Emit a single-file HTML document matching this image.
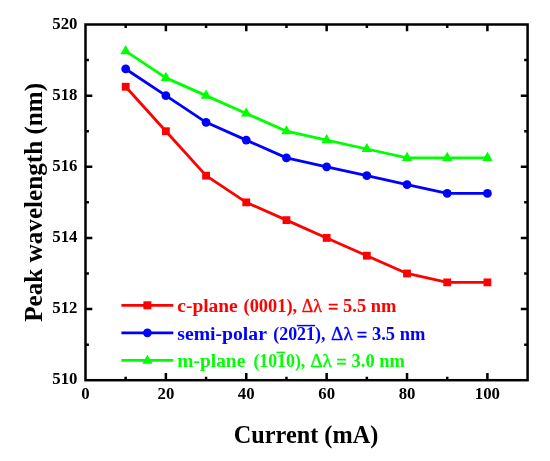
<!DOCTYPE html>
<html><head><meta charset="utf-8"><style>html,body{margin:0;padding:0;background:#fff;}svg{display:block;}</style></head>
<body><svg width="550" height="461" viewBox="0 0 550 461">
<rect width="550" height="461" fill="#fff"/>
<polyline points="125.69,86.75 165.88,131.21 206.07,175.67 246.26,202.35 286.45,220.13 326.65,237.92 366.84,255.70 407.03,273.49 447.22,282.38 487.41,282.38" fill="none" stroke="#ff0000" stroke-width="2.8" stroke-linejoin="round"/>
<polyline points="125.69,68.96 165.88,95.64 206.07,122.32 246.26,140.10 286.45,157.89 326.65,166.78 366.84,175.67 407.03,184.56 447.22,193.46 487.41,193.46" fill="none" stroke="#0000ff" stroke-width="2.8" stroke-linejoin="round"/>
<polyline points="125.69,51.18 165.88,77.86 206.07,95.64 246.26,113.43 286.45,131.21 326.65,140.10 366.84,149.00 407.03,157.89 447.22,157.89 487.41,157.89" fill="none" stroke="#00ff00" stroke-width="2.8" stroke-linejoin="round"/>
<rect x="121.79" y="82.85" width="7.8" height="7.8" fill="#ff0000"/>
<rect x="161.98" y="127.31" width="7.8" height="7.8" fill="#ff0000"/>
<rect x="202.17" y="171.77" width="7.8" height="7.8" fill="#ff0000"/>
<rect x="242.36" y="198.45" width="7.8" height="7.8" fill="#ff0000"/>
<rect x="282.55" y="216.23" width="7.8" height="7.8" fill="#ff0000"/>
<rect x="322.75" y="234.02" width="7.8" height="7.8" fill="#ff0000"/>
<rect x="362.94" y="251.80" width="7.8" height="7.8" fill="#ff0000"/>
<rect x="403.13" y="269.59" width="7.8" height="7.8" fill="#ff0000"/>
<rect x="443.32" y="278.48" width="7.8" height="7.8" fill="#ff0000"/>
<rect x="483.51" y="278.48" width="7.8" height="7.8" fill="#ff0000"/>
<circle cx="125.69" cy="68.96" r="4.4" fill="#0000ff"/>
<circle cx="165.88" cy="95.64" r="4.4" fill="#0000ff"/>
<circle cx="206.07" cy="122.32" r="4.4" fill="#0000ff"/>
<circle cx="246.26" cy="140.10" r="4.4" fill="#0000ff"/>
<circle cx="286.45" cy="157.89" r="4.4" fill="#0000ff"/>
<circle cx="326.65" cy="166.78" r="4.4" fill="#0000ff"/>
<circle cx="366.84" cy="175.67" r="4.4" fill="#0000ff"/>
<circle cx="407.03" cy="184.56" r="4.4" fill="#0000ff"/>
<circle cx="447.22" cy="193.46" r="4.4" fill="#0000ff"/>
<circle cx="487.41" cy="193.46" r="4.4" fill="#0000ff"/>
<polygon points="125.69,45.12 120.44,54.21 130.94,54.21" fill="#00ff00"/>
<polygon points="165.88,71.79 160.63,80.89 171.13,80.89" fill="#00ff00"/>
<polygon points="206.07,89.58 200.82,98.67 211.32,98.67" fill="#00ff00"/>
<polygon points="246.26,107.36 241.01,116.46 251.51,116.46" fill="#00ff00"/>
<polygon points="286.45,125.15 281.20,134.24 291.70,134.24" fill="#00ff00"/>
<polygon points="326.65,134.04 321.40,143.13 331.90,143.13" fill="#00ff00"/>
<polygon points="366.84,142.93 361.59,152.03 372.09,152.03" fill="#00ff00"/>
<polygon points="407.03,151.83 401.78,160.92 412.28,160.92" fill="#00ff00"/>
<polygon points="447.22,151.83 441.97,160.92 452.47,160.92" fill="#00ff00"/>
<polygon points="487.41,151.83 482.16,160.92 492.66,160.92" fill="#00ff00"/>
<rect x="85.5" y="24.5" width="442.10" height="355.70" fill="none" stroke="#000" stroke-width="2.5" stroke-linejoin="miter"/>
<path d="M125.69,380.2v-3.4 M125.69,24.5v3.4 M165.88,380.2v-7.1 M165.88,24.5v6.8 M206.07,380.2v-3.4 M206.07,24.5v3.4 M246.26,380.2v-7.1 M246.26,24.5v6.8 M286.45,380.2v-3.4 M286.45,24.5v3.4 M326.65,380.2v-7.1 M326.65,24.5v6.8 M366.84,380.2v-3.4 M366.84,24.5v3.4 M407.03,380.2v-7.1 M407.03,24.5v6.8 M447.22,380.2v-3.4 M447.22,24.5v3.4 M487.41,380.2v-7.1 M487.41,24.5v6.8 M85.5,344.63h3.4 M527.6,344.63h-3.4 M85.5,309.06h6.8 M527.6,309.06h-6.8 M85.5,273.49h3.4 M527.6,273.49h-3.4 M85.5,237.92h6.8 M527.6,237.92h-6.8 M85.5,202.35h3.4 M527.6,202.35h-3.4 M85.5,166.78h6.8 M527.6,166.78h-6.8 M85.5,131.21h3.4 M527.6,131.21h-3.4 M85.5,95.64h6.8 M527.6,95.64h-6.8 M85.5,60.07h3.4 M527.6,60.07h-3.4" stroke="#000" stroke-width="2.5" fill="none"/>
<text x="85.50" y="399.4" font-family='"Liberation Serif", serif' font-weight="bold" font-size="16.8" text-anchor="middle">0</text>
<text x="165.88" y="399.4" font-family='"Liberation Serif", serif' font-weight="bold" font-size="16.8" text-anchor="middle">20</text>
<text x="246.26" y="399.4" font-family='"Liberation Serif", serif' font-weight="bold" font-size="16.8" text-anchor="middle">40</text>
<text x="326.65" y="399.4" font-family='"Liberation Serif", serif' font-weight="bold" font-size="16.8" text-anchor="middle">60</text>
<text x="407.03" y="399.4" font-family='"Liberation Serif", serif' font-weight="bold" font-size="16.8" text-anchor="middle">80</text>
<text x="487.41" y="399.4" font-family='"Liberation Serif", serif' font-weight="bold" font-size="16.8" text-anchor="middle">100</text>
<text x="77.5" y="384.20" font-family='"Liberation Serif", serif' font-weight="bold" font-size="16.8" text-anchor="end">510</text>
<text x="77.5" y="313.06" font-family='"Liberation Serif", serif' font-weight="bold" font-size="16.8" text-anchor="end">512</text>
<text x="77.5" y="241.92" font-family='"Liberation Serif", serif' font-weight="bold" font-size="16.8" text-anchor="end">514</text>
<text x="77.5" y="170.78" font-family='"Liberation Serif", serif' font-weight="bold" font-size="16.8" text-anchor="end">516</text>
<text x="77.5" y="99.64" font-family='"Liberation Serif", serif' font-weight="bold" font-size="16.8" text-anchor="end">518</text>
<text x="77.5" y="28.50" font-family='"Liberation Serif", serif' font-weight="bold" font-size="16.8" text-anchor="end">520</text>
<text x="233.8" y="442.8" font-family='"Liberation Serif", serif' font-weight="bold" font-size="26" textLength="144.5" lengthAdjust="spacingAndGlyphs">Current (mA)</text>
<text transform="translate(42.2,321.8) rotate(-90)" font-family='"Liberation Serif", serif' font-weight="bold" font-size="26" textLength="239" lengthAdjust="spacingAndGlyphs">Peak wavelength (nm)</text>
<line x1="121.4" y1="305.3" x2="173.3" y2="305.3" stroke="#ff0000" stroke-width="2.8"/>
<rect x="143.40" y="301.30" width="8" height="8" fill="#ff0000"/>
<line x1="121.4" y1="332.8" x2="173.3" y2="332.8" stroke="#0000ff" stroke-width="2.8"/>
<circle cx="147.40" cy="332.80" r="4.4" fill="#0000ff"/>
<line x1="121.4" y1="360.4" x2="173.3" y2="360.4" stroke="#00ff00" stroke-width="2.8"/>
<polygon points="147.40,354.70 142.20,363.70 152.60,363.70" fill="#00ff00"/>
<text x="177.3" y="312.1" font-family='"Liberation Serif", serif' font-weight="bold" font-size="18.7" fill="#ff0000" textLength="60.4" lengthAdjust="spacingAndGlyphs">c-plane</text>
<text x="243.5" y="312.1" font-family='"Liberation Serif", serif' font-weight="bold" font-size="18.7" fill="#ff0000" textLength="53.7" lengthAdjust="spacingAndGlyphs">(0001),</text>
<text x="301.8" y="312.1" font-family='"Liberation Serif", serif' font-weight="normal" font-size="18.7" fill="#ff0000" stroke="#ff0000" stroke-width="0.35" textLength="20.2" lengthAdjust="spacingAndGlyphs">Δλ</text>
<text x="328" y="312.1" font-family='"Liberation Serif", serif' font-weight="bold" font-size="18.7" fill="#ff0000" textLength="68.3" lengthAdjust="spacingAndGlyphs"><tspan dy="1" stroke="#ff0000" stroke-width="0.3">=</tspan><tspan dy="-1"> 5.5 nm</tspan></text>
<text x="177.3" y="339.7" font-family='"Liberation Serif", serif' font-weight="bold" font-size="18.7" fill="#0000ff" textLength="89.6" lengthAdjust="spacingAndGlyphs">semi-polar</text>
<text x="273.2" y="339.7" font-family='"Liberation Serif", serif' font-weight="bold" font-size="18.7" fill="#0000ff" textLength="52.3" lengthAdjust="spacingAndGlyphs">(2021),</text>
<text x="331.1" y="339.7" font-family='"Liberation Serif", serif' font-weight="normal" font-size="18.7" fill="#0000ff" stroke="#0000ff" stroke-width="0.35" textLength="21.6" lengthAdjust="spacingAndGlyphs">Δλ</text>
<text x="356.8" y="339.7" font-family='"Liberation Serif", serif' font-weight="bold" font-size="18.7" fill="#0000ff" textLength="68.5" lengthAdjust="spacingAndGlyphs"><tspan dy="1" stroke="#0000ff" stroke-width="0.3">=</tspan><tspan dy="-1"> 3.5 nm</tspan></text>
<text x="177.3" y="366.5" font-family='"Liberation Serif", serif' font-weight="bold" font-size="18.7" fill="#00ff00" textLength="68.0" lengthAdjust="spacingAndGlyphs">m-plane</text>
<text x="253.4" y="366.5" font-family='"Liberation Serif", serif' font-weight="bold" font-size="18.7" fill="#00ff00" textLength="51.9" lengthAdjust="spacingAndGlyphs">(1010),</text>
<text x="310.2" y="366.5" font-family='"Liberation Serif", serif' font-weight="normal" font-size="18.7" fill="#00ff00" stroke="#00ff00" stroke-width="0.35" textLength="21.8" lengthAdjust="spacingAndGlyphs">Δλ</text>
<text x="336.3" y="366.5" font-family='"Liberation Serif", serif' font-weight="bold" font-size="18.7" fill="#00ff00" textLength="68.7" lengthAdjust="spacingAndGlyphs"><tspan dy="1" stroke="#00ff00" stroke-width="0.3">=</tspan><tspan dy="-1"> 3.0 nm</tspan></text>
<path d="M296.8,325.6H315" stroke="#0000ff" stroke-width="1.5"/>
<path d="M276.4,352.4H285" stroke="#00ff00" stroke-width="1.5"/>
</svg></body></html>
